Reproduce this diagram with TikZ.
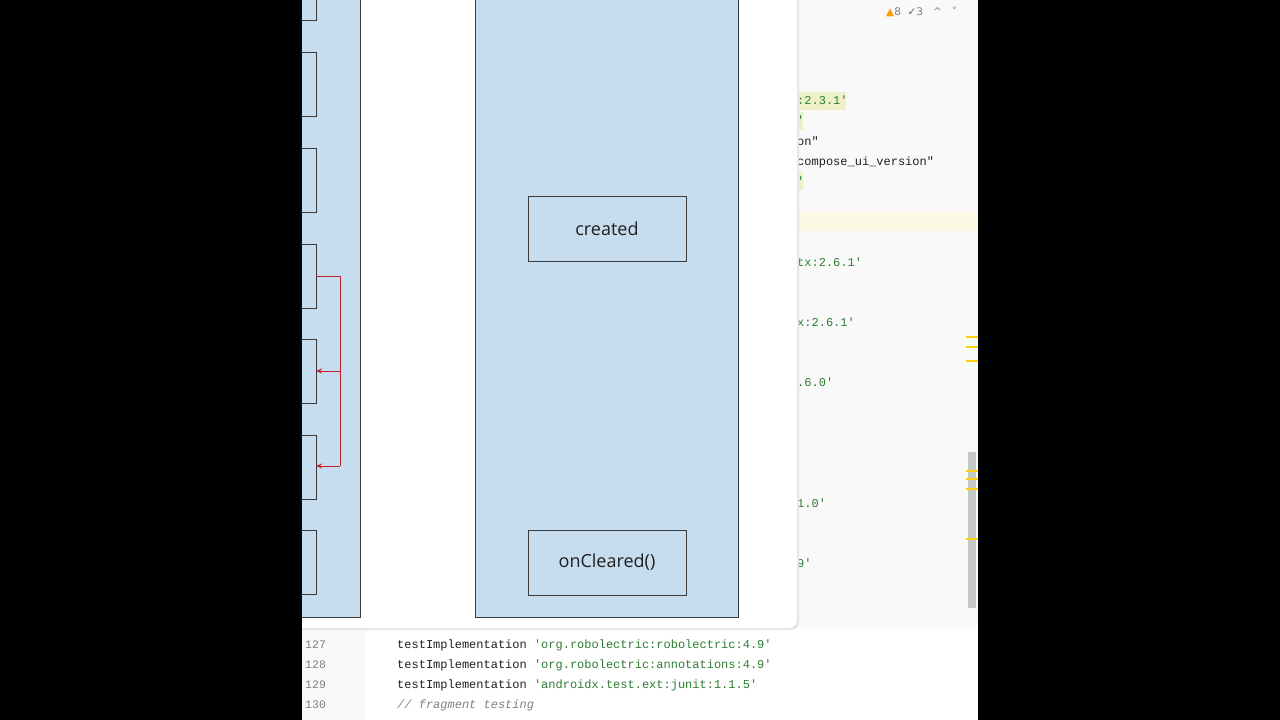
\documentclass[tikz,border=0pt]{standalone}
\usepackage{fontspec}
\usetikzlibrary{arrows.meta}
\setmainfont{Open Sans}
\newfontfamily\codef{Liberation Mono}
\newfontfamily\djvfont{DejaVu Sans}
\definecolor{panel}{HTML}{C6DCEF}
\definecolor{edge}{HTML}{3A3A3A}
\definecolor{codegreen}{HTML}{2E7D32}
\definecolor{codetxt}{HTML}{1F1F1F}
\definecolor{hl}{HTML}{EEF0C8}
\definecolor{hlrow}{HTML}{FBF8E4}
\definecolor{ide}{HTML}{F9F9F9}
\definecolor{redline}{HTML}{C0202A}
\tikzset{
  blk/.style={draw=edge,fill=panel,line width=0.8pt},
  lbl/.style={font=\fontsize{18}{21}\selectfont,text=codetxt},
  code/.style={font=\codef\fontsize{12}{14}\selectfont,anchor=base west,inner sep=0pt},
  num/.style={font=\codef\fontsize{11.5}{14}\selectfont,text=gray,anchor=base west,inner sep=0pt},
}
\begin{document}
\begin{tikzpicture}[x=1pt,y=-1pt]
\fill[black] (0,0) rectangle (1280,720);
\useasboundingbox (0,0) rectangle (1280,720);
% IDE background
\fill[ide] (302,0) rectangle (978,720);
\fill[white] (365,628) rectangle (978,720);
\fill[hlrow] (797,212) rectangle (978,231);
\fill[hl] (797,92) rectangle (846,110);
\fill[hl] (797,112) rectangle (803,130);
\fill[hl] (797,172) rectangle (803,190);
% code
\node[code,text=codegreen] at (797,104) {:2.3.1'};
\node[code,text=codegreen] at (797,124) {'};
\node[code,text=codetxt] at (797,145) {on"};
\node[code,text=codetxt] at (797,165) {compose\_ui\_version"};
\node[code,text=codegreen] at (797,185) {'};
\node[code,text=codegreen] at (797,266) {tx:2.6.1'};
\node[code,text=codegreen] at (797,326) {x:2.6.1'};
\node[code,text=codegreen] at (797,386) {.6.0'};
\node[code,text=codegreen] at (797,507) {1.0'};
\node[code,text=codegreen] at (797,567) {9'};
\node[font=\djvfont\fontsize{10.5}{12}\selectfont,text=gray,anchor=west,inner sep=0pt] at (886,12) {{\color{orange!80!yellow}▲}8 \ {\color{codegreen}✓}3 \ \ \^{} \ \ ˅};
% scrollbar and markers
\fill[gray!45] (968,452) rectangle (976,608);
\foreach \yy in {336,346,360,470,478,488,538} \fill[yellow!70!orange] (966,\yy) rectangle (978,\yy+1.5);
% bottom code
\foreach \n/\yy in {127/648,128/668,129/688,130/708} \node[num] at (305,\yy) {\n};
\node[code,text=codetxt] at (397,648) {testImplementation {\color{codegreen}'org.robolectric:robolectric:4.9'}};
\node[code,text=codetxt] at (397,668) {testImplementation {\color{codegreen}'org.robolectric:annotations:4.9'}};
\node[code,text=codetxt] at (397,688) {testImplementation {\color{codegreen}'androidx.test.ext:junit:1.1.5'}};
\node[code,text=gray,font=\codef\fontsize{12}{14}\selectfont\itshape] at (397,708) {// fragment testing};
% popup
\fill[black!10] (302,0) -- (799,0) -- (799,622) arc[start angle=0,end angle=90,radius=8] -- (302,630) -- cycle;
\fill[white] (302,0) -- (797,0) -- (797,620) arc[start angle=0,end angle=90,radius=8] -- (302,628) -- cycle;
% left panel
\begin{scope}
\clip (302,0) rectangle (800,720);
\draw[blk] (300,-2) rectangle (360,617);
\foreach \t in {-44,52,148,244,339,435,530} \draw[blk] (298,\t) rectangle (316,\t+64);
\end{scope}
\coordinate (ra) at (316,276);
\coordinate (rb) at (316,371);
\coordinate (rc) at (316,466);
\draw[redline,line width=0.8pt] (ra) -- (340,276) -- (340,466);
\draw[redline,line width=0.8pt,-{Stealth[length=6pt,width=5pt]}] (340,371) -- (rb);
\draw[redline,line width=0.8pt,-{Stealth[length=6pt,width=5pt]}] (340,466) -- (rc);
% center panel
\draw[blk] (475,-2) rectangle (738,617);
\node[blk,lbl,minimum width=158pt,minimum height=65pt] (created) at (607,228.5) {created};
\node[blk,lbl,minimum width=158pt,minimum height=65pt] (cleared) at (607,562.5) {onCleared()};
\end{tikzpicture}
\end{document}
